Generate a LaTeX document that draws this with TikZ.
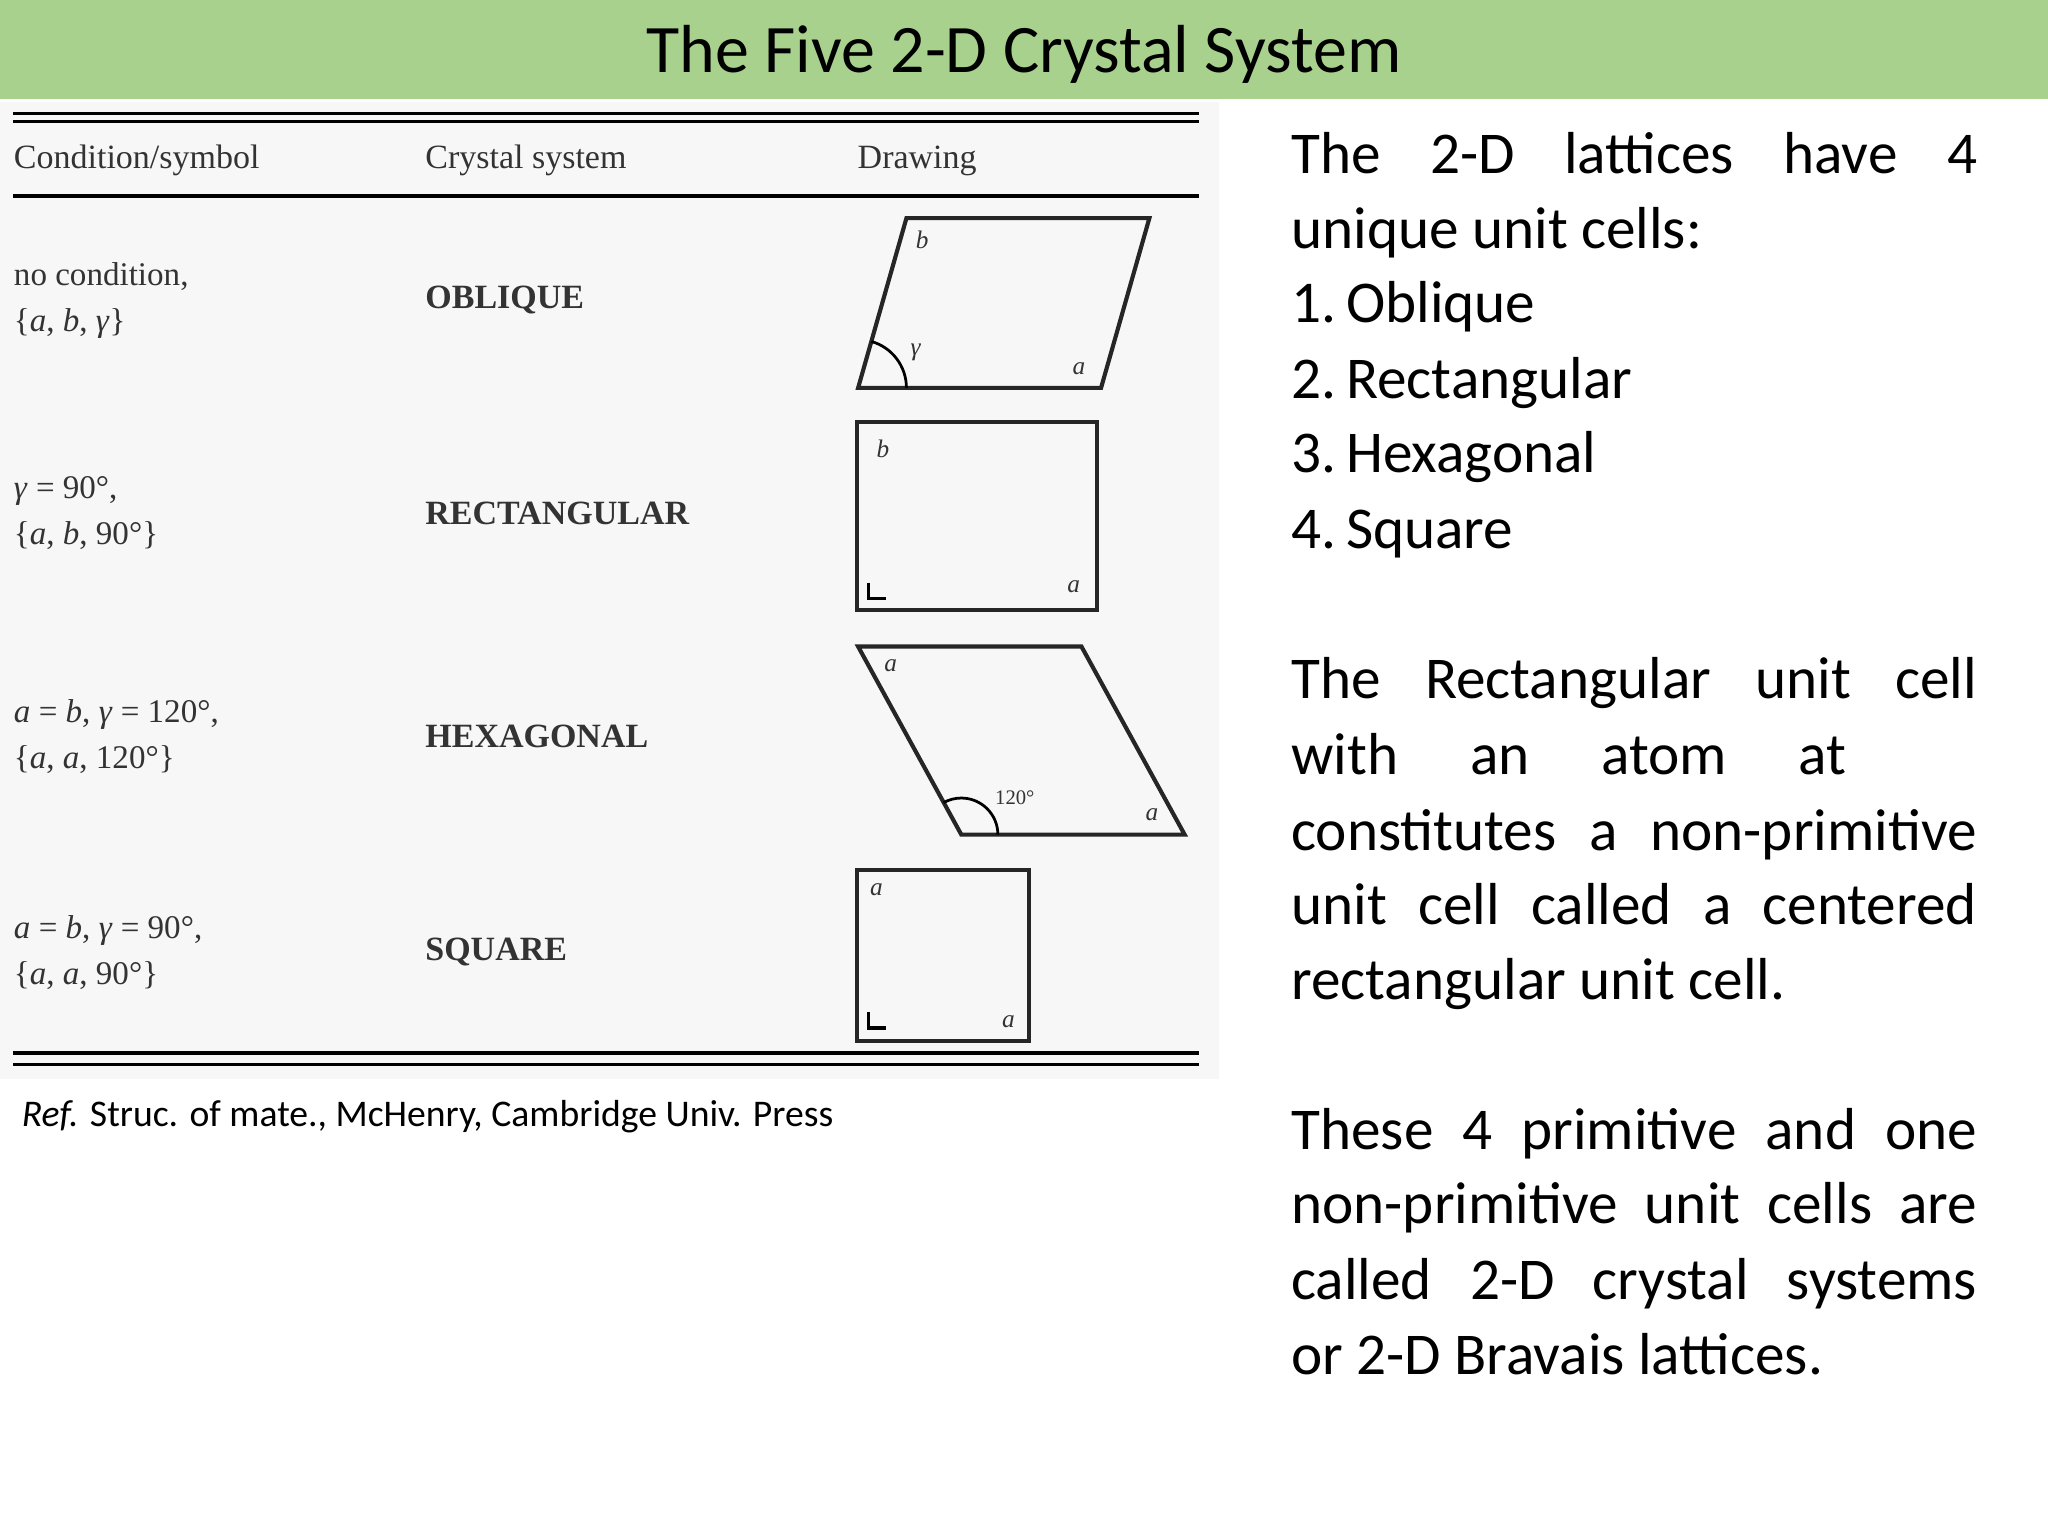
\documentclass[tikz,border=0pt]{standalone}
\usepackage{fontspec}
\setmainfont{Carlito}
\newfontfamily\tabfont{Liberation Serif}
\begin{document}
\begin{tikzpicture}[x=0.01cm,y=-0.01cm,
  body/.style={anchor=base west,inner sep=0,font=\fontsize{12.9}{15}\selectfont},
  th/.style={anchor=west,inner sep=0,font=\tabfont\fontsize{7.4}{8}\selectfont,text=black!80},
  tc/.style={anchor=west,inner sep=0,font=\tabfont\fontsize{7.2}{8}\selectfont,text=black!80,align=left},
  tb/.style={anchor=west,inner sep=0,font=\tabfont\bfseries\fontsize{7.4}{8}\selectfont,text=black!80},
  lab/.style={inner sep=0,font=\tabfont\itshape\fontsize{5.5}{6}\selectfont,text=black!80},
  cell/.style={draw=black!85,line width=0.9pt}]
\useasboundingbox (0,0) rectangle (1568,1176);
\fill[white] (0,0) rectangle (1568,1176);
\fill[fill={rgb,255:red,169;green,209;blue,142}] (0,0) rectangle (1568,76);
\node (title) at (784,42) {\fontsize{14.8}{16}\selectfont The Five 2-D Crystal System};
\fill[black!3] (0,78) rectangle (933,826);
\draw[line width=0.8pt] (10,87) -- (918,87) (10,93) -- (918,93);
\draw[line width=0.8pt] (10,150) -- (918,150);
\draw[line width=0.8pt] (10,806) -- (918,806) (10,815) -- (918,815);
\node[th] (h1) at (10,123) {Condition/symbol};
\node[th] (h2) at (325,123) {Crystal system};
\node[th] (h3) at (656,123) {Drawing};
\node[tc] (c1) at (10,230) {no condition,\\[2pt]\{\textit{a}, \textit{b}, \textit{γ}\}};
\node[tc] (c2) at (10,393) {\textit{γ} = 90°,\\[2pt]\{\textit{a}, \textit{b}, 90°\}};
\node[tc] (c3) at (10,564) {\textit{a} = \textit{b}, \textit{γ} = 120°,\\[2pt]\{\textit{a}, \textit{a}, 120°\}};
\node[tc] (c4) at (10,729) {\textit{a} = \textit{b}, \textit{γ} = 90°,\\[2pt]\{\textit{a}, \textit{a}, 90°\}};
\node[tb] (s1) at (325,230) {OBLIQUE};
\node[tb] (s2) at (325,393) {RECTANGULAR};
\node[tb] (s3) at (325,564) {HEXAGONAL};
\node[tb] (s4) at (325,729) {SQUARE};
% oblique
\draw[cell] (694,167) -- (880,167) -- (843,297) -- (657,297) -- cycle;
\draw[line width=0.6pt] (694,297) arc[start angle=0,end angle=-74,radius=37];
\node[lab] (o1) at (706,184) {b};
\node[lab] (o2) at (826,282) {a};
\node[lab] (o3) at (701,270) {γ};
% rectangular
\draw[cell] (656,323) rectangle (840,467);
\draw[line width=0.7pt] (665,446) -- (665,458) -- (678,458);
\node[lab] (r1) at (676,344) {b};
\node[lab] (r2) at (822,449) {a};
% hexagonal
\draw[cell] (657,495) -- (828,495) -- (907,639) -- (736,639) -- cycle;
\draw[line width=0.6pt] (764,639) arc[start angle=0,end angle=-119,radius=28];
\node[lab] (x1) at (682,510) {a};
\node[lab] (x2) at (882,624) {a};
\node[lab,font=\tabfont\fontsize{4.5}{5}\selectfont] (x3) at (777,611) {120°};
% square
\draw[cell] (656,666) rectangle (788,797);
\draw[line width=0.7pt] (665,775) -- (665,787) -- (678,787);
\node[lab] (q1) at (671,681) {a};
\node[lab] (q2) at (772,782) {a};
\node[anchor=west,inner sep=0,font=\fontsize{8.2}{9}\selectfont] (ref) at (16,855) {\textit{Ref.} Struc. of mate., McHenry, Cambridge Univ. Press};
% right text
\def\J#1{\makebox[525\dimexpr0.01cm\relax][s]{#1}}
\node[body] (t1) at (988,133) {\J{The 2-D lattices have 4}};
\node[body] (t2) at (988,190) {unique unit cells:};
\node[body] (t3) at (988,247) {1.\,Oblique};
\node[body] (t4) at (988,305) {2.\,Rectangular};
\node[body] (t5) at (988,362) {3.\,Hexagonal};
\node[body] (t6) at (988,420) {4.\,Square};
\node[body] (u1) at (988,535) {\J{The Rectangular unit cell}};
\node[body] (u2) at (988,593) {\makebox[425\dimexpr0.01cm\relax][s]{with an atom at}};
\node[body] (u3) at (988,651) {\J{constitutes a non-primitive}};
\node[body] (u4) at (988,708) {\J{unit cell called a centered}};
\node[body] (u5) at (988,765) {rectangular unit cell.};
\node[body] (v1) at (988,880) {\J{These 4 primitive and one}};
\node[body] (v2) at (988,937) {\J{non-primitive unit cells are}};
\node[body] (v3) at (988,995) {\J{called 2-D crystal systems}};
\node[body] (v4) at (988,1052) {or 2-D Bravais lattices.};
\end{tikzpicture}
\end{document}
